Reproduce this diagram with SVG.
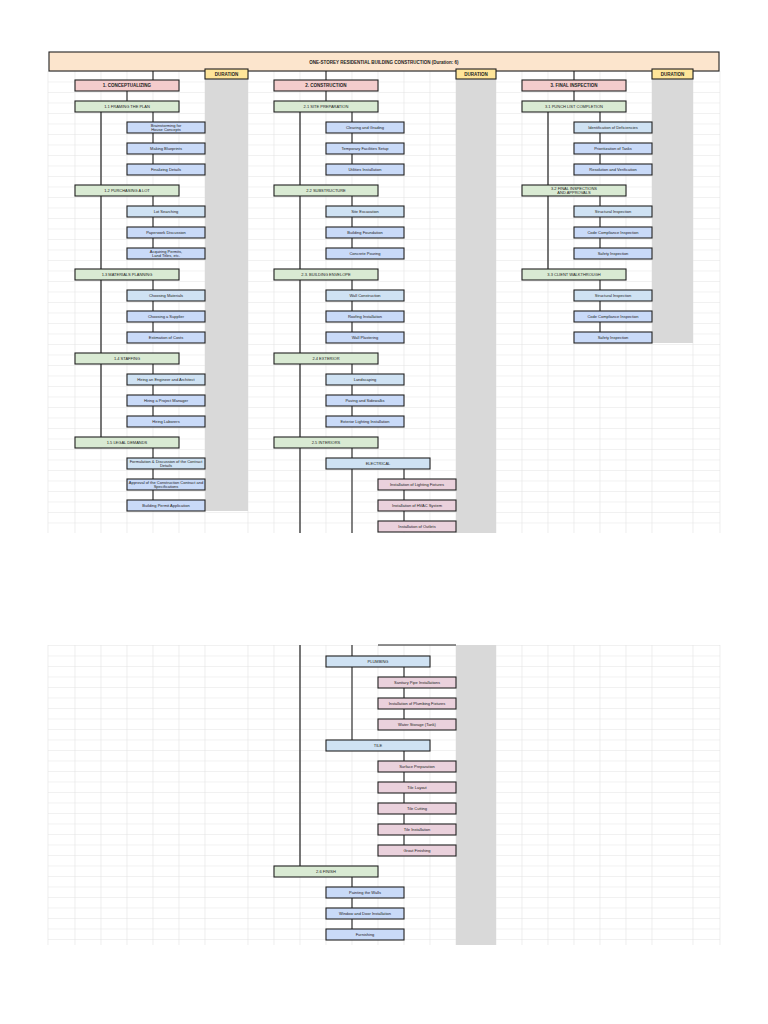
<svg xmlns="http://www.w3.org/2000/svg" width="768" height="1024" viewBox="0 0 768 1024">
<style>
.bx{stroke:#222;stroke-width:1.1}
.pk{fill:#f4cccc}.gr{fill:#d9ead3}.bl{fill:#c9daf8}.lb{fill:#cfe2f3}.mv{fill:#ead1dc}
.t{font-family:"Liberation Sans",Arial,sans-serif;font-size:4px;fill:#222;text-anchor:middle}
.tb{font-family:"Liberation Sans",Arial,sans-serif;font-size:4.5px;font-weight:bold;fill:#222;text-anchor:middle}
.c{stroke:#222;stroke-width:1.1;fill:none}
.sp{stroke:#555;stroke-width:1.6;fill:none}
.g{stroke:#e3e3e3;stroke-width:0.6}
</style>
<defs>
<pattern id="rows" x="0" y="71" width="768" height="10.5" patternUnits="userSpaceOnUse">
<line x1="0" y1="0.3" x2="768" y2="0.3" stroke="#e3e3e3" stroke-width="0.6"/>
</pattern>
<pattern id="rows2" x="0" y="645" width="768" height="10.5" patternUnits="userSpaceOnUse">
<line x1="0" y1="0.3" x2="768" y2="0.3" stroke="#e3e3e3" stroke-width="0.6"/>
</pattern>
</defs>
<rect width="768" height="1024" fill="#fff"/>
<g id="grid">
<rect x="48" y="71" width="672" height="462" fill="url(#rows)"/>
<rect x="48" y="645" width="672" height="300" fill="url(#rows2)"/>
<path class="g" d="M48 71V533M75 71V533M101 71V533M127 71V533M153 71V533M179 71V533M205 71V533M248 71V533M274 71V533M300 71V533M326 71V533M352 71V533M378 71V533M404 71V533M430 71V533M456 71V533M496 71V533M522 71V533M548 71V533M574 71V533M600 71V533M626 71V533M652 71V533M693 71V533M720 71V533"/>
<path class="g" d="M48 645V945M75 645V945M101 645V945M127 645V945M153 645V945M179 645V945M205 645V945M248 645V945M274 645V945M300 645V945M326 645V945M352 645V945M378 645V945M404 645V945M430 645V945M456 645V945M496 645V945M522 645V945M548 645V945M574 645V945M600 645V945M626 645V945M652 645V945M693 645V945M720 645V945"/>
<rect x="205" y="79" width="43" height="432" fill="#d9d9d9"/>
<rect x="456" y="79" width="40" height="454" fill="#d9d9d9"/>
<rect x="652" y="79" width="41" height="264" fill="#d9d9d9"/>
<rect x="456" y="645" width="40" height="300" fill="#d9d9d9"/>
</g>
<g id="title"><rect class="bx" x="49" y="52" width="670" height="19" fill="#fce5cd"/><text class="tb" x="384" y="63.5" font-size="5">ONE-STOREY RESIDENTIAL BUILDING CONSTRUCTION (Duration: 6)</text></g>
<g id="durations">
<rect class="bx" x="205" y="69" width="43" height="10" fill="#ffe599"/><text class="tb" x="226.5" y="75.5" font-size="4">DURATION</text>
<rect class="bx" x="456" y="69" width="40" height="10" fill="#ffe599"/><text class="tb" x="476" y="75.5" font-size="4">DURATION</text>
<rect class="bx" x="652" y="69" width="41" height="10" fill="#ffe599"/><text class="tb" x="672.5" y="75.5" font-size="4">DURATION</text>
</g>
<g id="connectors">
<path class="c" d="M153 71V80M127 91V101M153 112V122M153 133V143M153 154V164M153 196V206M153 217V227M153 238V248M153 280V290M153 301V311M153 322V332M153 364V374M153 385V395M153 406V416M153 448V458M153 469V479M153 490V500"/>
<path class="sp" d="M101 112V437"/>
<path class="c" d="M326 71V80M326 91V101M352 112V122M352 133V143M352 154V164M352 196V206M352 217V227M352 238V248M352 280V290M352 301V311M352 322V332M352 364V374M352 385V395M352 406V416M352 448V458M352 469V533M404 469V479M404 490V500M404 511V521"/>
<path class="sp" d="M300 112V533M300 645V866"/>
<path class="c" d="M378 645H456M352 645V656M352 667V740M404 667V677M404 688V698M404 709V719M404 751V761M404 772V782M404 793V803M404 814V824M404 835V845M352 877V887M352 898V908M352 919V929"/>
<path class="c" d="M574 71V80M574 91V101M600 112V122M600 133V143M600 154V164M600 196V206M600 217V227M600 238V248M600 280V290M600 301V311M600 322V332"/>
<path class="sp" d="M548 112V269"/>
</g>
<g id="n1"><rect class="bx pk" x="75" y="80" width="104" height="11"/><text class="tb" x="127" y="87" font-size="4">1. CONCEPTUALIZING</text></g>
<g id="n11"><rect class="bx gr" x="75" y="101" width="104" height="11"/><text class="t" x="127" y="108">1.1 FRAMING THE PLAN</text></g>
<g id="n111"><rect class="bx bl" x="127" y="122" width="78" height="11"/><text class="t" x="166" y="126.5">Brainstorming for</text><text class="t" x="166" y="131">House Concepts</text></g>
<g id="n112"><rect class="bx bl" x="127" y="143" width="78" height="11"/><text class="t" x="166" y="150">Making Blueprints</text></g>
<g id="n113"><rect class="bx bl" x="127" y="164" width="78" height="11"/><text class="t" x="166" y="171">Finalizing Details</text></g>
<g id="n12"><rect class="bx gr" x="75" y="185" width="104" height="11"/><text class="t" x="127" y="192">1.2 PURCHASING A LOT</text></g>
<g id="n121"><rect class="bx lb" x="127" y="206" width="78" height="11"/><text class="t" x="166" y="213">Lot Searching</text></g>
<g id="n122"><rect class="bx bl" x="127" y="227" width="78" height="11"/><text class="t" x="166" y="234">Paperwork Discussion</text></g>
<g id="n123"><rect class="bx bl" x="127" y="248" width="78" height="11"/><text class="t" x="166" y="252.5">Acquiring Permits,</text><text class="t" x="166" y="257">Land Titles, etc.</text></g>
<g id="n13"><rect class="bx gr" x="75" y="269" width="104" height="11"/><text class="t" x="127" y="276">1.3 MATERIALS PLANNING</text></g>
<g id="n131"><rect class="bx lb" x="127" y="290" width="78" height="11"/><text class="t" x="166" y="297">Choosing Materials</text></g>
<g id="n132"><rect class="bx bl" x="127" y="311" width="78" height="11"/><text class="t" x="166" y="318">Choosing a Supplier</text></g>
<g id="n133"><rect class="bx bl" x="127" y="332" width="78" height="11"/><text class="t" x="166" y="339">Estimation of Costs</text></g>
<g id="n14"><rect class="bx gr" x="75" y="353" width="104" height="11"/><text class="t" x="127" y="360">1.4 STAFFING</text></g>
<g id="n141"><rect class="bx lb" x="127" y="374" width="78" height="11"/><text class="t" x="166" y="381">Hiring an Engineer and Architect</text></g>
<g id="n142"><rect class="bx bl" x="127" y="395" width="78" height="11"/><text class="t" x="166" y="402">Hiring a Project Manager</text></g>
<g id="n143"><rect class="bx bl" x="127" y="416" width="78" height="11"/><text class="t" x="166" y="423">Hiring Laborers</text></g>
<g id="n15"><rect class="bx gr" x="75" y="437" width="104" height="11"/><text class="t" x="127" y="444">1.5 LEGAL DEMANDS</text></g>
<g id="n151"><rect class="bx lb" x="127" y="458" width="78" height="11"/><text class="t" x="166" y="462.5" font-size="3.7">Formulation &amp; Discussion of the Contract</text><text class="t" x="166" y="467" font-size="3.7">Details</text></g>
<g id="n152"><rect class="bx bl" x="127" y="479" width="78" height="11"/><text class="t" x="166" y="483.5" font-size="3.7">Approval of the Construction Contract and</text><text class="t" x="166" y="488" font-size="3.7">Specifications</text></g>
<g id="n153"><rect class="bx bl" x="127" y="500" width="78" height="11"/><text class="t" x="166" y="507">Building Permit Application</text></g>

<g id="n2"><rect class="bx pk" x="274" y="80" width="104" height="11"/><text class="tb" x="326" y="87" font-size="4">2. CONSTRUCTION</text></g>
<g id="n21"><rect class="bx gr" x="274" y="101" width="104" height="11"/><text class="t" x="326" y="108">2.1 SITE PREPARATION</text></g>
<g id="n211"><rect class="bx bl" x="326" y="122" width="78" height="11"/><text class="t" x="365" y="129">Clearing and Grading</text></g>
<g id="n212"><rect class="bx bl" x="326" y="143" width="78" height="11"/><text class="t" x="365" y="150">Temporary Facilities Setup</text></g>
<g id="n213"><rect class="bx bl" x="326" y="164" width="78" height="11"/><text class="t" x="365" y="171">Utilities Installation</text></g>
<g id="n22"><rect class="bx gr" x="274" y="185" width="104" height="11"/><text class="t" x="326" y="192">2.2 SUBSTRUCTURE</text></g>
<g id="n221"><rect class="bx lb" x="326" y="206" width="78" height="11"/><text class="t" x="365" y="213">Site Excavation</text></g>
<g id="n222"><rect class="bx bl" x="326" y="227" width="78" height="11"/><text class="t" x="365" y="234">Building Foundation</text></g>
<g id="n223"><rect class="bx bl" x="326" y="248" width="78" height="11"/><text class="t" x="365" y="255">Concrete Pouring</text></g>
<g id="n23"><rect class="bx gr" x="274" y="269" width="104" height="11"/><text class="t" x="326" y="276">2.3. BUILDING ENVELOPE</text></g>
<g id="n231"><rect class="bx lb" x="326" y="290" width="78" height="11"/><text class="t" x="365" y="297">Wall Construction</text></g>
<g id="n232"><rect class="bx bl" x="326" y="311" width="78" height="11"/><text class="t" x="365" y="318">Roofing Installation</text></g>
<g id="n233"><rect class="bx bl" x="326" y="332" width="78" height="11"/><text class="t" x="365" y="339">Wall Plastering</text></g>
<g id="n24"><rect class="bx gr" x="274" y="353" width="104" height="11"/><text class="t" x="326" y="360">2.4 EXTERIOR</text></g>
<g id="n241"><rect class="bx lb" x="326" y="374" width="78" height="11"/><text class="t" x="365" y="381">Landscaping</text></g>
<g id="n242"><rect class="bx bl" x="326" y="395" width="78" height="11"/><text class="t" x="365" y="402">Paving and Sidewalks</text></g>
<g id="n243"><rect class="bx bl" x="326" y="416" width="78" height="11"/><text class="t" x="365" y="423">Exterior Lighting Installation</text></g>
<g id="n25"><rect class="bx gr" x="274" y="437" width="104" height="11"/><text class="t" x="326" y="444">2.5 INTERIORS</text></g>
<g id="nel"><rect class="bx lb" x="326" y="458" width="104" height="11"/><text class="t" x="378" y="465">ELECTRICAL</text></g>
<g id="nel1"><rect class="bx mv" x="378" y="479" width="78" height="11"/><text class="t" x="417" y="486">Installation of Lighting Fixtures</text></g>
<g id="nel2"><rect class="bx mv" x="378" y="500" width="78" height="11"/><text class="t" x="417" y="507">Installation of HVAC System</text></g>
<g id="nel3"><rect class="bx mv" x="378" y="521" width="78" height="11"/><text class="t" x="417" y="528">Installation of Outlets</text></g>
<g id="npl"><rect class="bx lb" x="326" y="656" width="104" height="11"/><text class="t" x="378" y="663">PLUMBING</text></g>
<g id="npl1"><rect class="bx mv" x="378" y="677" width="78" height="11"/><text class="t" x="417" y="684">Sanitary Pipe Installations</text></g>
<g id="npl2"><rect class="bx mv" x="378" y="698" width="78" height="11"/><text class="t" x="417" y="705">Installation of Plumbing Fixtures</text></g>
<g id="npl3"><rect class="bx mv" x="378" y="719" width="78" height="11"/><text class="t" x="417" y="726">Water Storage (Tank)</text></g>
<g id="nti"><rect class="bx lb" x="326" y="740" width="104" height="11"/><text class="t" x="378" y="747">TILE</text></g>
<g id="nti1"><rect class="bx mv" x="378" y="761" width="78" height="11"/><text class="t" x="417" y="768">Surface Preparation</text></g>
<g id="nti2"><rect class="bx mv" x="378" y="782" width="78" height="11"/><text class="t" x="417" y="789">Tile Layout</text></g>
<g id="nti3"><rect class="bx mv" x="378" y="803" width="78" height="11"/><text class="t" x="417" y="810">Tile Cutting</text></g>
<g id="nti4"><rect class="bx mv" x="378" y="824" width="78" height="11"/><text class="t" x="417" y="831">Tile Installation</text></g>
<g id="nti5"><rect class="bx mv" x="378" y="845" width="78" height="11"/><text class="t" x="417" y="852">Grout Finishing</text></g>
<g id="n26"><rect class="bx gr" x="274" y="866" width="104" height="11"/><text class="t" x="326" y="873">2.6  FINISH</text></g>
<g id="n261"><rect class="bx bl" x="326" y="887" width="78" height="11"/><text class="t" x="365" y="894">Painting the Walls</text></g>
<g id="n262"><rect class="bx bl" x="326" y="908" width="78" height="11"/><text class="t" x="365" y="915">Window and Door Installation</text></g>
<g id="n263"><rect class="bx bl" x="326" y="929" width="78" height="11"/><text class="t" x="365" y="936">Furnishing</text></g>

<g id="n3"><rect class="bx pk" x="522" y="80" width="104" height="11"/><text class="tb" x="574" y="87" font-size="4">3. FINAL INSPECTION</text></g>
<g id="n31"><rect class="bx gr" x="522" y="101" width="104" height="11"/><text class="t" x="574" y="108">3.1 PUNCH LIST COMPLETION</text></g>
<g id="n311"><rect class="bx lb" x="574" y="122" width="78" height="11"/><text class="t" x="613" y="129">Identification of Deficiencies</text></g>
<g id="n312"><rect class="bx bl" x="574" y="143" width="78" height="11"/><text class="t" x="613" y="150">Prioritization of Tasks</text></g>
<g id="n313"><rect class="bx bl" x="574" y="164" width="78" height="11"/><text class="t" x="613" y="171">Resolution and Verification</text></g>
<g id="n32"><rect class="bx gr" x="522" y="185" width="104" height="11"/><text class="t" x="574" y="189.5">3.2 FINAL INSPECTIONS</text><text class="t" x="574" y="194">AND APPROVALS</text></g>
<g id="n321"><rect class="bx lb" x="574" y="206" width="78" height="11"/><text class="t" x="613" y="213">Structural Inspection</text></g>
<g id="n322"><rect class="bx bl" x="574" y="227" width="78" height="11"/><text class="t" x="613" y="234">Code Compliance Inspection</text></g>
<g id="n323"><rect class="bx bl" x="574" y="248" width="78" height="11"/><text class="t" x="613" y="255">Safety Inspection</text></g>
<g id="n33"><rect class="bx gr" x="522" y="269" width="104" height="11"/><text class="t" x="574" y="276">3.3 CLIENT WALKTHROUGH</text></g>
<g id="n331"><rect class="bx lb" x="574" y="290" width="78" height="11"/><text class="t" x="613" y="297">Structural Inspection</text></g>
<g id="n332"><rect class="bx bl" x="574" y="311" width="78" height="11"/><text class="t" x="613" y="318">Code Compliance Inspection</text></g>
<g id="n333"><rect class="bx bl" x="574" y="332" width="78" height="11"/><text class="t" x="613" y="339">Safety Inspection</text></g>
</svg>
